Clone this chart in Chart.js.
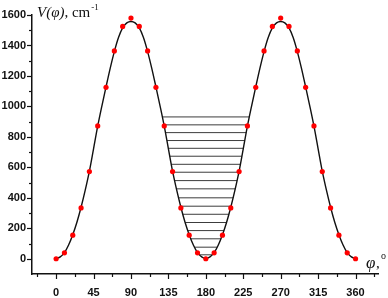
<!DOCTYPE html>
<html>
<head>
<meta charset="utf-8">
<script src="https://cdn.jsdelivr.net/npm/chart.js@4"></script>
<style>
html, body { margin: 0; padding: 0; background: #fff; }
</style>
</head>
<body>
<canvas id="grafico" width="388" height="298"></canvas>
<script>
// pontos calculados (vermelhos), passo de 10 graus
const phiPontos = [0, 10, 20, 30, 40, 50, 60, 70, 80, 90, 100, 110, 120, 130, 140, 150, 160, 170, 180,
  190, 200, 210, 220, 230, 240, 250, 260, 270, 280, 290, 300, 310, 320, 330, 340, 350, 360];
const vPontos = [0, 39, 155, 334, 572, 872, 1125, 1364, 1525, 1580, 1525, 1364, 1125, 872, 572, 334, 155, 39, 0,
  39, 155, 334, 572, 872, 1125, 1364, 1525, 1580, 1525, 1364, 1125, 872, 572, 334, 155, 39, 0];

// curva ajustada (linha preta), passo de 5 graus
const phiCurva = [0, 5, 10, 15, 20, 25, 30, 35, 40, 45, 50, 55, 60, 65, 70, 75, 80, 85, 90,
  95, 100, 105, 110, 115, 120, 125, 130, 135, 140, 145, 150, 155, 160, 165, 170, 175, 180,
  185, 190, 195, 200, 205, 210, 215, 220, 225, 230, 235, 240, 245, 250, 255, 260, 265, 270,
  275, 280, 285, 290, 295, 300, 305, 310, 315, 320, 325, 330, 335, 340, 345, 350, 355, 360];
const vCurva = [1, 12, 40, 90, 158, 240, 338, 450, 575, 722, 870, 1002, 1128, 1250, 1360, 1452, 1515, 1548, 1557,
  1548, 1515, 1452, 1360, 1250, 1128, 1002, 870, 722, 575, 450, 338, 240, 158, 90, 40, 12, 1,
  12, 40, 90, 158, 240, 338, 450, 575, 722, 870, 1002, 1128, 1250, 1360, 1452, 1515, 1548, 1557,
  1548, 1515, 1452, 1360, 1250, 1128, 1002, 870, 722, 575, 450, 338, 240, 158, 90, 40, 12, 1];

// níveis de energia dentro do poço em 180 graus
const niveis = [26, 76, 131, 185, 238, 292, 345, 400, 459, 513, 568, 620, 673, 725, 776, 828, 879, 931];
const centroPoco = 180;

// marcas dos eixos
const xMenores = [-22.5, 22.5, 67.5, 112.5, 157.5, 202.5, 247.5, 292.5, 337.5, 382.5];
const yMenores = [100, 300, 500, 700, 900, 1100, 1300, 1500];

// acha onde a curva cruza o nível (interpolação linear na curva lida)
function cruzamento(e, lado) {
  let i = phiCurva.indexOf(centroPoco);
  while (i > 0 && i < phiCurva.length - 1) {
    const j = i + lado;
    if (vCurva[j] >= e) {
      const t = (e - vCurva[i]) / (vCurva[j] - vCurva[i]);
      return phiCurva[i] + t * (phiCurva[j] - phiCurva[i]);
    }
    i = j;
  }
  return phiCurva[i];
}

const datasetsNiveis = niveis.map(e => ({
  type: 'line',
  data: [{ x: cruzamento(e, -1), y: e }, { x: cruzamento(e, 1), y: e }],
  borderColor: '#3c3c3c',
  borderWidth: 1,
  pointRadius: 0,
  order: 3
}));

const extras = {
  id: 'extras',
  afterDraw(chart) {
    const ctx = chart.ctx;
    const xs = chart.scales.x, ys = chart.scales.y, a = chart.chartArea;
    ctx.save();
    ctx.strokeStyle = '#111';
    ctx.lineWidth = 1.2;
    ys.ticks.forEach(t => {
      const p = Math.round(ys.getPixelForValue(t.value)) + 0.5;
      ctx.beginPath(); ctx.moveTo(a.left - 5, p); ctx.lineTo(a.left, p); ctx.stroke();
    });
    yMenores.forEach(v => {
      const p = Math.round(ys.getPixelForValue(v)) + 0.5;
      ctx.beginPath(); ctx.moveTo(a.left - 3, p); ctx.lineTo(a.left, p); ctx.stroke();
    });
    xs.ticks.forEach(t => {
      const p = Math.round(xs.getPixelForValue(t.value)) + 0.5;
      ctx.beginPath(); ctx.moveTo(p, a.bottom); ctx.lineTo(p, a.bottom + 5); ctx.stroke();
    });
    xMenores.forEach(v => {
      const p = Math.round(xs.getPixelForValue(v)) + 0.5;
      ctx.beginPath(); ctx.moveTo(p, a.bottom); ctx.lineTo(p, a.bottom + 3); ctx.stroke();
    });

    // títulos dos eixos
    ctx.fillStyle = '#111';
    ctx.textBaseline = 'alphabetic';
    let x = a.left + 5;
    ctx.font = 'italic 15px "Liberation Serif"';
    ctx.fillText('V(φ)', x, 17);
    x += ctx.measureText('V(φ)').width;
    ctx.font = '15px "Liberation Serif"';
    ctx.fillText(', cm', x, 17);
    x += ctx.measureText(', cm').width;
    ctx.font = '9px "Liberation Serif"';
    ctx.fillText('-1', x + 1, 10);

    ctx.font = 'italic 17px "Liberation Serif"';
    ctx.fillText('φ', a.right - 12, a.bottom - 6);
    ctx.font = '15px "Liberation Serif"';
    ctx.fillText(',', a.right - 2, a.bottom - 6);
    ctx.font = '10px "Liberation Serif"';
    ctx.fillText('o', a.right + 3, a.bottom - 15);
    ctx.restore();
  }
};

new Chart(document.getElementById('grafico'), {
  type: 'line',
  data: {
    datasets: [
      ...datasetsNiveis,
      {
        data: phiCurva.map((p, i) => ({ x: p, y: vCurva[i] })),
        borderColor: '#111',
        borderWidth: 1.4,
        pointRadius: 0,
        cubicInterpolationMode: 'monotone',
        order: 2
      },
      {
        data: phiPontos.map((p, i) => ({ x: p, y: vPontos[i] })),
        showLine: false,
        pointRadius: 2.6,
        pointBackgroundColor: '#ff0000',
        pointBorderWidth: 0,
        order: 1
      }
    ]
  },
  options: {
    responsive: false,
    animation: false,
    devicePixelRatio: 1,
    clip: false,
    layout: { padding: { top: 15, right: 10, left: 0, bottom: 0 } },
    plugins: { legend: { display: false }, tooltip: { enabled: false } },
    scales: {
      x: {
        type: 'linear',
        min: -29,
        max: 387,
        grid: { display: false, drawTicks: false },
        border: { display: true, color: '#111', width: 1.5 },
        ticks: {
          stepSize: 45,
          includeBounds: false,
          autoSkip: false,
          maxRotation: 0,
          padding: 12,
          color: '#111',
          callback: v => String(v),
          font: { family: '"Liberation Sans", Arial', size: 11, weight: 'bold' }
        },
        afterFit(s) { s.height = 24; }
      },
      y: {
        type: 'linear',
        min: -100,
        max: 1600,
        grid: { display: false, drawTicks: false },
        border: { display: true, color: '#111', width: 1.5 },
        ticks: {
          stepSize: 200,
          includeBounds: false,
          autoSkip: false,
          padding: 6,
          color: '#111',
          callback: v => String(v),
          font: { family: '"Liberation Sans", Arial', size: 11, weight: 'bold' }
        },
        afterFit(s) { s.width = 32; }
      }
    }
  },
  plugins: [extras]
});
</script>
</body>
</html>
